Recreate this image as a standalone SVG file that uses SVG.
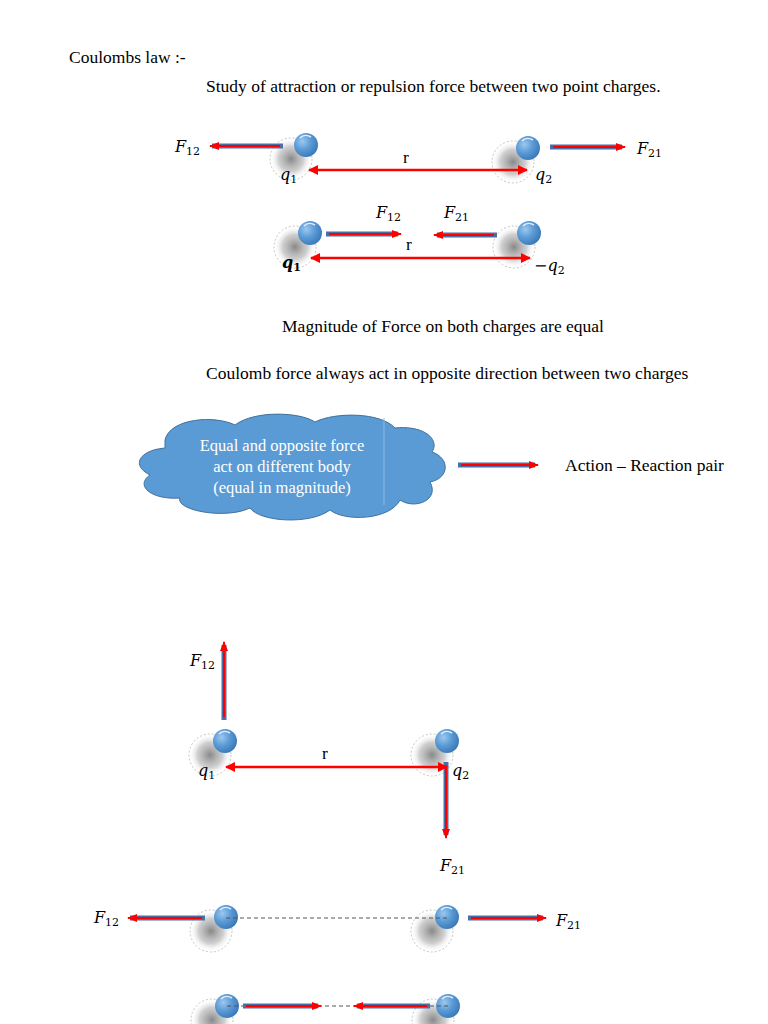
<svg xmlns="http://www.w3.org/2000/svg" width="768" height="1024" viewBox="0 0 768 1024">
<defs>
<style>
text{font-family:"Liberation Serif",serif;font-size:17.5px;fill:#000}
.m{font-family:"DejaVu Serif",serif;font-style:italic;font-size:16px}
.s{font-size:11px;font-style:normal}
.ct{fill:#fff;font-size:16.5px;text-anchor:middle}
.fb{stroke:#4a6fa8;stroke-width:5;fill:none}
.fr{stroke:#ff0000;stroke-width:2;fill:none}
.rr{stroke:#ff0000;stroke-width:2.5;fill:none}
</style>
<radialGradient id="sh" cx="0.5" cy="0.5" r="0.5"><stop offset="0" stop-color="#888"/><stop offset="0.6" stop-color="#bbb" stop-opacity="0.7"/><stop offset="1" stop-color="#fff" stop-opacity="0"/></radialGradient>
<radialGradient id="bl" cx="0.35" cy="0.35" r="0.7"><stop offset="0" stop-color="#9cc8f0"/><stop offset="0.5" stop-color="#5b9bd5"/><stop offset="1" stop-color="#3a78b8"/></radialGradient>
<marker id="ah" viewBox="0 0 10 10" refX="9" refY="5" markerWidth="5" markerHeight="5" orient="auto-start-reverse"><path d="M0,1 L10,5 L0,9 z" fill="#ff0000"/></marker>
<marker id="rh" viewBox="0 0 10 10" refX="9" refY="5" markerWidth="4" markerHeight="4" orient="auto-start-reverse"><path d="M0,0 L10,5 L0,10 z" fill="#ff0000"/></marker>
<g id="chg"><circle cx="-15" cy="14" r="21" fill="url(#sh)" stroke="#aaa" stroke-width="0.7" stroke-dasharray="2,2"/><circle cx="0" cy="0" r="12" fill="url(#bl)"/><path d="M-6,-7 A9,9 0 0 1 5,-8" stroke="#fff" stroke-width="1.5" fill="none" opacity="0.8"/></g>
</defs>
<rect width="768" height="1024" fill="#fff"/>
<text x="69" y="63">Coulombs law :-</text>
<text x="206" y="92">Study of attraction or repulsion force between two point charges.</text>

<g id="nodes">
<use id="c1" href="#chg" x="306" y="145"/>
<use id="c2" href="#chg" x="528" y="148"/>
<use id="c3" href="#chg" x="310" y="233"/>
<use id="c4" href="#chg" x="529" y="233"/>
<use id="c5" href="#chg" x="225" y="741"/>
<use id="c6" href="#chg" x="447" y="741"/>
<use id="c7" href="#chg" x="226" y="917"/>
<use id="c8" href="#chg" x="447" y="917"/>
<use id="c9" href="#chg" x="227" y="1006"/>
<use id="c10" href="#chg" x="448" y="1006"/>
<g id="cloud">
<path d="M165,440 C170,418 215,415 235,425 C255,410 300,412 315,422 C335,412 380,412 395,428 C425,425 440,440 432,452 C450,458 450,478 430,482 C440,500 415,510 400,500 C390,520 345,522 330,510 C310,525 260,522 250,508 C225,520 175,510 180,498 C150,500 135,485 150,475 C130,465 140,450 165,448 Z" fill="#5b9bd5" stroke="#41719c" stroke-width="1"/>
<line x1="384" y1="418" x2="384" y2="505" stroke="#8fb8e3" stroke-width="1"/>
<text class="ct" x="282" y="451">Equal and opposite force</text>
<text class="ct" x="282" y="472">act on different body</text>
<text class="ct" x="282" y="493">(equal in magnitude)</text>
</g>
</g>

<g id="connectors">
<line class="fb" x1="283" y1="146" x2="212" y2="146"/><line class="fr" x1="280" y1="146" x2="210" y2="146" marker-end="url(#ah)"/>
<line class="fb" x1="550" y1="147" x2="622" y2="147"/><line class="fr" x1="553" y1="147" x2="625" y2="147" marker-end="url(#ah)"/>
<line class="rr" x1="309" y1="170" x2="527" y2="170" marker-start="url(#rh)" marker-end="url(#rh)"/>
<line class="fb" x1="326" y1="234" x2="398" y2="234"/><line class="fr" x1="329" y1="234" x2="401" y2="234" marker-end="url(#ah)"/>
<line class="fb" x1="497" y1="235" x2="437" y2="235"/><line class="fr" x1="494" y1="235" x2="434" y2="235" marker-end="url(#ah)"/>
<line class="rr" x1="311" y1="258" x2="530" y2="258" marker-start="url(#rh)" marker-end="url(#rh)"/>
<line class="fb" x1="458" y1="465" x2="535" y2="465"/><line class="fr" x1="461" y1="465" x2="538" y2="465" marker-end="url(#ah)"/>
<line class="fb" x1="224" y1="720" x2="224" y2="645"/><line class="fr" x1="224" y1="717" x2="224" y2="642" marker-end="url(#ah)"/>
<line class="fb" x1="446" y1="762" x2="446" y2="835"/><line class="fr" x1="446" y1="765" x2="446" y2="838" marker-end="url(#ah)"/>
<line class="rr" x1="226" y1="767" x2="447" y2="767" marker-start="url(#rh)" marker-end="url(#rh)"/>
<line x1="226" y1="918" x2="447" y2="918" stroke="#555" stroke-width="1" stroke-dasharray="4,3"/>
<line class="fb" x1="205" y1="918" x2="130" y2="918"/><line class="fr" x1="202" y1="918" x2="128" y2="918" marker-end="url(#ah)"/>
<line class="fb" x1="468" y1="918" x2="543" y2="918"/><line class="fr" x1="471" y1="918" x2="546" y2="918" marker-end="url(#ah)"/>
<line x1="227" y1="1006" x2="448" y2="1006" stroke="#555" stroke-width="1" stroke-dasharray="4,3"/>
<line class="fb" x1="243" y1="1006" x2="318" y2="1006"/><line class="fr" x1="246" y1="1006" x2="321" y2="1006" marker-end="url(#ah)"/>
<line class="fb" x1="430" y1="1006" x2="357" y2="1006"/><line class="fr" x1="427" y1="1006" x2="354" y2="1006" marker-end="url(#ah)"/>
</g>

<text class="m" x="175" y="152">F<tspan class="s" dy="3">12</tspan></text>
<text class="m" x="637" y="154">F<tspan class="s" dy="3">21</tspan></text>
<text x="403" y="163" font-size="14">r</text>
<text class="m" x="280" y="180">q<tspan class="s" dy="3">1</tspan></text>
<text class="m" x="535" y="180">q<tspan class="s" dy="3">2</tspan></text>
<text class="m" x="376" y="218">F<tspan class="s" dy="3">12</tspan></text>
<text class="m" x="444" y="218">F<tspan class="s" dy="3">21</tspan></text>
<text x="406" y="250" font-size="14">r</text>
<text class="m" x="282" y="268" font-weight="bold">q<tspan class="s" dy="3">1</tspan></text>
<text class="m" x="534" y="271">−q<tspan class="s" dy="3">2</tspan></text>
<text x="443" y="332" text-anchor="middle">Magnitude of Force on both charges are equal</text>
<text x="206" y="379">Coulomb force always act in opposite direction between two charges</text>
<text x="565" y="471">Action – Reaction pair</text>
<text class="m" x="190" y="666">F<tspan class="s" dy="3">12</tspan></text>
<text x="322" y="759" font-size="14">r</text>
<text class="m" x="198" y="776">q<tspan class="s" dy="3">1</tspan></text>
<text class="m" x="452" y="776">q<tspan class="s" dy="3">2</tspan></text>
<text class="m" x="440" y="871">F<tspan class="s" dy="3">21</tspan></text>
<text class="m" x="94" y="923">F<tspan class="s" dy="3">12</tspan></text>
<text class="m" x="556" y="926">F<tspan class="s" dy="3">21</tspan></text>
</svg>
